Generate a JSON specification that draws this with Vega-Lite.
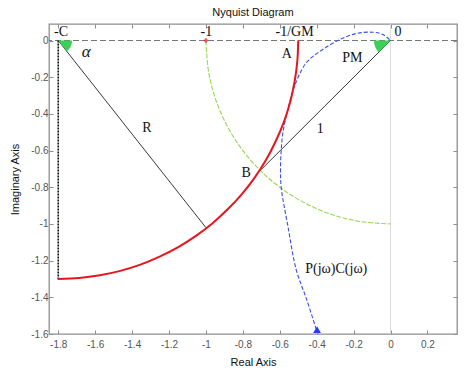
{
  "$schema": "https://vega.github.io/schema/vega-lite/v6.json",
  "width": 408,
  "height": 310,
  "autosize": {"type": "none"},
  "padding": {"left": 49, "top": 24, "right": 17, "bottom": 36},
  "title": {"text": "Nyquist Diagram", "font": "Liberation Sans", "fontSize": 11, "fontWeight": "normal", "color": "#111", "offset": 6},
  "config": {
    "view": {"stroke": "#8f8f8f", "strokeWidth": 1.3},
    "axis": {"grid": false, "domain": false, "tickSize": -4, "tickColor": "#8f8f8f", "labelFont": "Liberation Sans", "labelFontSize": 10, "labelColor": "#555", "titleFont": "Liberation Sans", "titleFontSize": 11, "titleFontWeight": "normal", "titleColor": "#111"}
  },
  "datasets": {
    "red": [
      {"i": 0, "x": -0.5, "y": 0}, {"i": 1, "x": -0.505, "y": -0.113}, {"i": 2, "x": -0.52, "y": -0.226},
      {"i": 3, "x": -0.544, "y": -0.336}, {"i": 4, "x": -0.578, "y": -0.445}, {"i": 5, "x": -0.622, "y": -0.549},
      {"i": 6, "x": -0.674, "y": -0.65}, {"i": 7, "x": -0.735, "y": -0.746}, {"i": 8, "x": -0.804, "y": -0.836},
      {"i": 9, "x": -0.881, "y": -0.919}, {"i": 10, "x": -0.964, "y": -0.996}, {"i": 11, "x": -1.054, "y": -1.065},
      {"i": 12, "x": -1.15, "y": -1.126}, {"i": 13, "x": -1.251, "y": -1.178}, {"i": 14, "x": -1.355, "y": -1.222},
      {"i": 15, "x": -1.464, "y": -1.256}, {"i": 16, "x": -1.574, "y": -1.28}, {"i": 17, "x": -1.687, "y": -1.295},
      {"i": 18, "x": -1.8, "y": -1.3}
    ],
    "green": [
      {"i": 0, "x": -1, "y": 0}, {"i": 1, "x": -0.985, "y": -0.174}, {"i": 2, "x": -0.94, "y": -0.342},
      {"i": 3, "x": -0.866, "y": -0.5}, {"i": 4, "x": -0.766, "y": -0.643}, {"i": 5, "x": -0.643, "y": -0.766},
      {"i": 6, "x": -0.5, "y": -0.866}, {"i": 7, "x": -0.342, "y": -0.94}, {"i": 8, "x": -0.174, "y": -0.985},
      {"i": 9, "x": 0, "y": -1}
    ],
    "blue": [
      {"i": 0, "x": -0.402, "y": -1.576}, {"i": 1, "x": -0.455, "y": -1.41}, {"i": 2, "x": -0.511, "y": -1.249},
      {"i": 3, "x": -0.556, "y": -1.012}, {"i": 4, "x": -0.592, "y": -0.803}, {"i": 5, "x": -0.596, "y": -0.703},
      {"i": 6, "x": -0.592, "y": -0.594}, {"i": 7, "x": -0.583, "y": -0.503}, {"i": 8, "x": -0.556, "y": -0.376},
      {"i": 9, "x": -0.52, "y": -0.249}, {"i": 10, "x": -0.457, "y": -0.122}, {"i": 11, "x": -0.367, "y": -0.049},
      {"i": 12, "x": -0.276, "y": 0.005}, {"i": 13, "x": -0.186, "y": 0.038}, {"i": 14, "x": -0.096, "y": 0.045},
      {"i": 15, "x": -0.042, "y": 0.033}, {"i": 16, "x": 0, "y": 0}
    ],
    "wedgeC": [
      {"x": -1.8, "y": 0}, {"x": -1.7538, "y": -0.0591}, {"x": -1.7426, "y": -0.0482}, {"x": -1.735, "y": -0.0375},
      {"x": -1.7295, "y": -0.0257}, {"x": -1.7261, "y": -0.013}, {"x": -1.725, "y": 0}
    ],
    "wedgeO": [
      {"x": -0.09, "y": 0}, {"x": -0.0886, "y": -0.0156}, {"x": -0.0846, "y": -0.0308}, {"x": -0.0779, "y": -0.045},
      {"x": -0.0689, "y": -0.0579}, {"x": -0.0636, "y": -0.0636}, {"x": 0, "y": 0}
    ],
    "labels": [
      {"t": "-C", "x": -1.785, "y": 0.045}, {"t": "-1", "x": -0.998, "y": 0.045}, {"t": "-1/GM", "x": -0.52, "y": 0.045},
      {"t": "0", "x": 0.04, "y": 0.045}, {"t": "A", "x": -0.562, "y": -0.071}, {"t": "PM", "x": -0.207, "y": -0.094},
      {"t": "R", "x": -1.32, "y": -0.476}, {"t": "1", "x": -0.381, "y": -0.481}, {"t": "B", "x": -0.782, "y": -0.722},
      {"t": "P(jω)C(jω)", "x": -0.294, "y": -1.243}
    ]
  },
  "layer": [
    {
      "data": {"values": [{"v": 0}]},
      "mark": {"type": "rule", "color": "#dcdcdc", "strokeWidth": 1},
      "encoding": {
        "x": {"field": "v", "type": "quantitative", "scale": {"domain": [-1.85, 0.36], "nice": false, "zero": false},
              "axis": {"orient": "bottom", "title": "Real Axis", "values": [-1.8, -1.6, -1.4, -1.2, -1, -0.8, -0.6, -0.4, -0.2, 0, 0.2], "labelExpr": "datum.value + ''", "labelPadding": 9, "titlePadding": 7}}
      }
    },
    {
      "data": {"values": [{"v": 0}]},
      "mark": {"type": "rule", "color": "#777", "strokeWidth": 1, "strokeDash": [6, 3]},
      "encoding": {
        "y": {"field": "v", "type": "quantitative", "scale": {"domain": [-1.6, 0.09], "nice": false, "zero": false},
              "axis": {"orient": "left", "title": "Imaginary Axis", "values": [-1.6, -1.4, -1.2, -1, -0.8, -0.6, -0.4, -0.2, 0], "labelExpr": "datum.value + ''", "labelPadding": 5, "titlePadding": 10}}
      }
    },
    {
      "data": {"values": [{"x": 0, "y": 0}]},
      "mark": {"type": "point", "opacity": 0},
      "encoding": {
        "x": {"field": "x", "type": "quantitative", "axis": {"orient": "top", "labels": false, "title": null, "values": [-1.8, -1.6, -1.4, -1.2, -1, -0.8, -0.6, -0.4, -0.2, 0, 0.2]}},
        "y": {"field": "y", "type": "quantitative", "axis": {"orient": "right", "labels": false, "title": null, "values": [-1.6, -1.4, -1.2, -1, -0.8, -0.6, -0.4, -0.2, 0]}}
      }
    },
    {
      "data": {"values": [{"x": -1.8, "y": 0, "x2": -1.8, "y2": -1.305}]},
      "mark": {"type": "rule", "color": "#111", "strokeWidth": 1.6, "strokeDash": [2, 1]},
      "encoding": {"x": {"field": "x", "type": "quantitative", "axis": null}, "y": {"field": "y", "type": "quantitative", "axis": null}, "x2": {"field": "x2"}, "y2": {"field": "y2"}}
    },
    {
      "data": {"values": [{"x": -1.8, "y": 0, "x2": -1.0, "y2": -1.02}, {"x": 0, "y": 0, "x2": -0.7, "y2": -0.703}]},
      "mark": {"type": "rule", "color": "#222", "strokeWidth": 0.9},
      "encoding": {"x": {"field": "x", "type": "quantitative", "axis": null}, "y": {"field": "y", "type": "quantitative", "axis": null}, "x2": {"field": "x2"}, "y2": {"field": "y2"}}
    },
    {
      "data": {"name": "green"},
      "mark": {"type": "line", "color": "#9ad65a", "strokeWidth": 1.1, "strokeDash": [5, 1.5], "interpolate": "catmull-rom"},
      "encoding": {"x": {"field": "x", "type": "quantitative", "axis": null}, "y": {"field": "y", "type": "quantitative", "axis": null}, "order": {"field": "i"}}
    },
    {
      "data": {"name": "blue"},
      "mark": {"type": "line", "color": "#3d4fe0", "strokeWidth": 1.1, "strokeDash": [4, 2], "interpolate": "catmull-rom"},
      "encoding": {"x": {"field": "x", "type": "quantitative", "axis": null}, "y": {"field": "y", "type": "quantitative", "axis": null}, "order": {"field": "i"}}
    },
    {
      "data": {"name": "red"},
      "mark": {"type": "line", "color": "#e8141e", "strokeWidth": 2, "interpolate": "catmull-rom"},
      "encoding": {"x": {"field": "x", "type": "quantitative", "axis": null}, "y": {"field": "y", "type": "quantitative", "axis": null}, "order": {"field": "i"}}
    },
    {
      "data": {"name": "wedgeC"},
      "mark": {"type": "area", "color": "#3ccf5a", "opacity": 1},
      "encoding": {"x": {"field": "x", "type": "quantitative", "axis": null}, "y": {"field": "y", "type": "quantitative", "axis": null}, "y2": {"datum": 0}}
    },
    {
      "data": {"name": "wedgeO"},
      "mark": {"type": "area", "color": "#3ccf5a", "opacity": 1},
      "encoding": {"x": {"field": "x", "type": "quantitative", "axis": null}, "y": {"field": "y", "type": "quantitative", "axis": null}, "y2": {"datum": 0}}
    },
    {
      "data": {"values": [{"x": -1, "y": 0}]},
      "mark": {"type": "point", "shape": "cross", "filled": true, "color": "#e8141e", "size": 20},
      "encoding": {"x": {"field": "x", "type": "quantitative", "axis": null}, "y": {"field": "y", "type": "quantitative", "axis": null}}
    },
    {
      "data": {"values": [{"x": -0.398, "y": -1.576}]},
      "mark": {"type": "point", "shape": "triangle-up", "filled": true, "color": "#1f3cff", "size": 60, "opacity": 1},
      "encoding": {"x": {"field": "x", "type": "quantitative", "axis": null}, "y": {"field": "y", "type": "quantitative", "axis": null}}
    },
    {
      "data": {"name": "labels"},
      "mark": {"type": "text", "font": "Liberation Serif", "fontSize": 14, "color": "#111", "align": "center", "baseline": "middle"},
      "encoding": {"x": {"field": "x", "type": "quantitative", "axis": null}, "y": {"field": "y", "type": "quantitative", "axis": null}, "text": {"field": "t"}}
    },
    {
      "data": {"values": [{"t": "α", "x": -1.648, "y": -0.062}]},
      "mark": {"type": "text", "font": "Liberation Serif", "fontSize": 17, "fontStyle": "italic", "color": "#111", "align": "center", "baseline": "middle"},
      "encoding": {"x": {"field": "x", "type": "quantitative", "axis": null}, "y": {"field": "y", "type": "quantitative", "axis": null}, "text": {"field": "t"}}
    }
  ],
  "resolve": {"axis": {"x": "independent", "y": "independent"}}
}
